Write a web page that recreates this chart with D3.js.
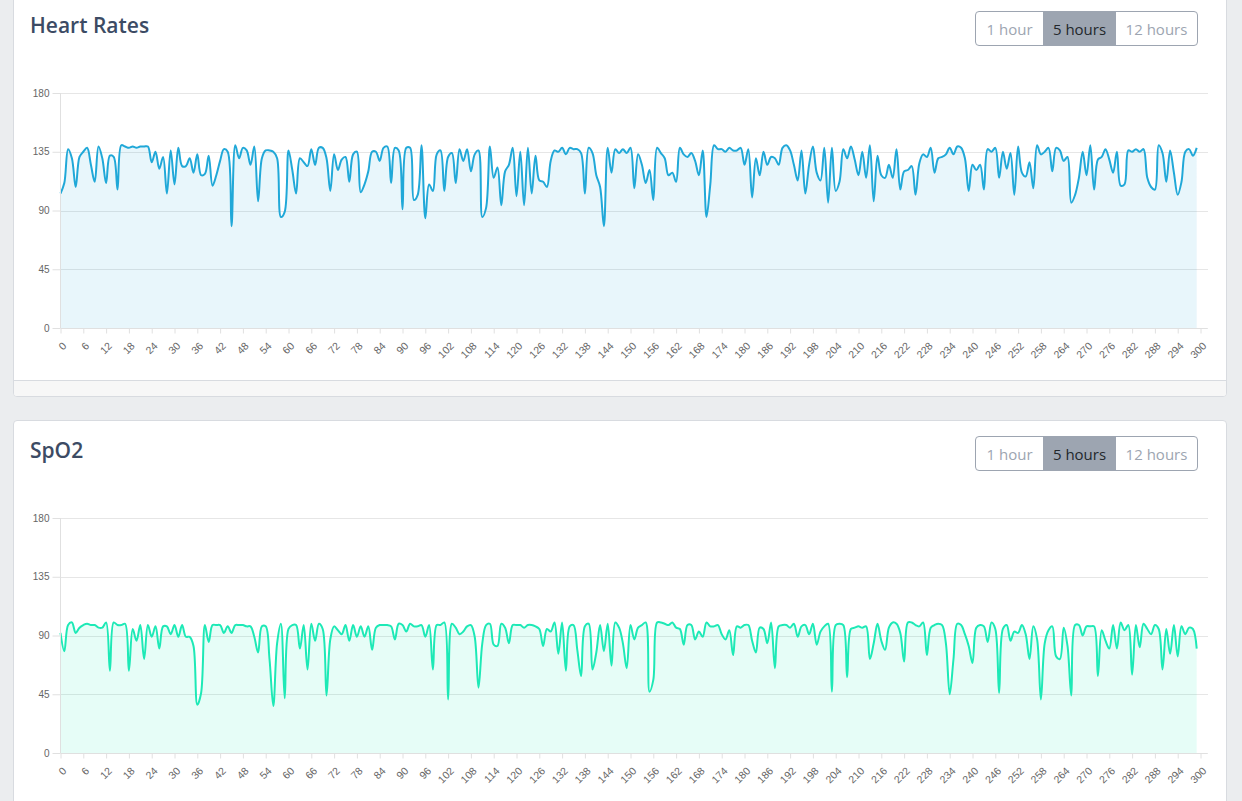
<!DOCTYPE html>
<html><head><meta charset="utf-8">
<script src="https://cdn.jsdelivr.net/npm/d3@7"></script>
<style>
html,body{margin:0;padding:0;}
body{background:#ebedef;width:1242px;height:801px;overflow:hidden;position:relative;font-family:"Open Sans","Noto Sans",sans-serif;}
.card{position:absolute;left:13px;width:1212px;background:#fff;border:1px solid #d8dbe0;border-radius:4px;overflow:hidden;}
.footer{position:absolute;left:0;right:0;bottom:0;height:15px;background:#f7f7f7;border-top:1px solid #d8dbe0;}
.title{position:absolute;left:30px;font-size:21px;font-weight:600;color:#3c4b64;}
.btns{position:absolute;left:975px;height:35px;display:flex;border:1px solid #9da5b1;border-radius:4px;overflow:hidden;box-sizing:border-box;}
.btn{height:100%;display:flex;align-items:center;justify-content:center;font-size:15px;color:#9da5b1;box-sizing:border-box;}
.btn.active{background:#9da5b1;color:#23282c;}
svg{position:absolute;left:0;top:0;}
</style></head>
<body>
<div class="card" style="top:-10px;height:405px;"><div class="footer"></div></div>
<div class="card" style="top:420px;height:400px;"></div>
<div class="title" style="top:11px;">Heart Rates</div>
<div class="title" style="top:436px;">SpO2</div>
<div class="btns" style="top:11px;"><div class="btn" style="width:67px">1 hour</div><div class="btn active" style="width:73px">5 hours</div><div class="btn" style="width:81px">12 hours</div></div>
<div class="btns" style="top:436px;"><div class="btn" style="width:67px">1 hour</div><div class="btn active" style="width:73px">5 hours</div><div class="btn" style="width:81px">12 hours</div></div>
<svg id="chart" width="1242" height="801"></svg>
<script>
const heartRate = [103,111,137,130,108,131,135,138,125,112,
139,130,111,132,131,106,140,139,138,139,
138,139,139,139,127,135,122,131,103,136,
110,138,124,124,130,119,133,117,118,132,
109,117,128,137,135,78,140,130,138,136,
125,139,97,130,136,136,135,130,85,89,
136,121,103,130,127,124,137,125,138,138,
130,105,133,121,129,131,112,133,135,104,
110,120,135,135,128,138,139,111,138,136,
91,138,138,98,102,140,84,110,105,133,
136,105,131,134,111,137,128,137,120,133,
136,85,92,139,115,123,94,120,125,138,
101,135,94,138,103,132,113,112,108,128,
136,135,138,133,138,137,137,134,103,138,
134,117,108,78,138,119,137,134,137,134,
138,107,133,125,111,121,98,138,134,130,
117,119,112,138,133,131,134,128,117,136,
85,110,140,137,137,135,138,136,136,138,
125,137,100,130,117,135,125,131,130,125,
138,140,136,125,113,136,103,125,139,119,
113,138,96,138,105,112,137,130,139,129,
117,135,115,140,97,132,117,115,125,115,
137,106,120,121,124,102,126,133,131,138,
119,130,131,133,138,133,139,138,130,105,
125,121,125,106,137,135,138,115,135,122,
134,102,139,119,116,127,107,140,133,135,
138,120,138,136,128,131,96,102,115,135,
117,140,106,129,131,137,129,119,135,109,
110,136,135,137,135,137,115,108,106,140,
134,112,136,119,102,112,135,137,132,138];
const spo2 = [92,78,98,100,92,96,98,99,98,98,
96,96,100,63,100,98,98,99,63,95,
86,98,72,98,89,97,80,97,97,91,
98,89,98,89,89,82,37,46,98,85,
98,98,98,92,97,92,98,98,98,97,
97,89,77,97,97,72,36,84,99,42,
95,98,98,80,98,64,99,86,99,95,
44,87,97,94,91,98,86,98,89,97,
89,97,79,96,98,98,98,97,87,99,
98,93,99,97,97,98,89,98,64,98,
98,100,41,99,96,91,93,97,98,89,
50,84,98,99,83,82,99,96,84,98,
98,98,96,98,98,97,95,82,95,93,
100,76,100,63,97,98,79,59,97,99,
64,77,98,78,99,67,100,96,84,65,
98,87,96,98,100,47,56,100,100,99,
98,100,96,95,83,98,98,87,93,89,
100,97,97,98,91,87,94,75,97,96,
98,98,86,77,96,95,84,100,65,97,
98,98,96,99,89,97,98,91,99,83,
93,97,99,47,98,99,98,58,95,96,
97,96,97,72,84,99,86,79,96,100,
99,92,70,100,100,98,97,100,75,96,
98,99,98,84,45,72,99,98,91,82,
69,96,98,97,85,100,95,46,95,98,
86,93,92,98,91,72,97,87,41,84,
94,97,74,72,96,82,44,98,98,90,
97,97,97,59,94,86,80,98,80,100,
94,98,60,98,81,99,95,91,98,95,
64,95,76,98,74,97,91,96,95,80];
const yTicks = [0,45,90,135,180];
const xTicks = d3.range(0, 301, 6);

const svg = d3.select('#chart');
const x = d3.scaleLinear().domain([0,300]).range([60.5,1200.5]);

function drawChart(values, top, bottom, stroke, fill){
  const y = d3.scaleLinear().domain([0,180]).range([bottom, top]);
  const g = svg.append('g');
  g.append('g').attr('transform','translate(60.5,0)')
    .call(d3.axisLeft(y).tickValues(yTicks).tickSize(-1147).tickFormat(''))
    .call(s=>s.select('.domain').remove())
    .call(s=>s.selectAll('line').attr('stroke','#e6e6e6').attr('shape-rendering','crispEdges'));
  const pts = values.map((v,i)=>[i,v]);
  g.append('path').datum(pts)
    .attr('d', d3.area().x(d=>x(d[0])).y0(y(0)).y1(d=>y(d[1])).curve(d3.curveCatmullRom))
    .attr('fill', fill);
  g.append('path').datum(pts)
    .attr('d', d3.line().x(d=>x(d[0])).y(d=>y(d[1])).curve(d3.curveCatmullRom))
    .attr('fill','none').attr('stroke',stroke).attr('stroke-width',2);
  const ya = g.append('g').attr('transform','translate(60.5,0)')
    .call(d3.axisLeft(y).tickValues(yTicks).tickSize(8).tickPadding(3));
  ya.select('.domain').attr('stroke','#e0e0e0').attr('d',`M0,${top}V${bottom}`);
  ya.selectAll('line').attr('stroke','#e0e0e0');
  ya.selectAll('text').attr('fill','#666').attr('font-size',10).attr('font-family','"Liberation Sans",Arial,sans-serif');
  const xa = g.append('g').attr('transform',`translate(0,${bottom+0.5})`)
    .call(d3.axisBottom(x).tickValues(xTicks).tickSize(5).tickFormat(d3.format('d')));
  xa.select('.domain').attr('stroke','#e0e0e0').attr('d','M60.5,0H1207');
  xa.selectAll('line').attr('stroke','#e0e0e0');
  xa.selectAll('text').attr('fill','#666').attr('font-size',10.5)
    .attr('font-family','"Liberation Sans",Arial,sans-serif')
    .attr('text-anchor','end').attr('dy','0.35em').attr('y',0)
    .attr('transform','translate(3.5,15.5) rotate(-45)');
}
drawChart(heartRate, 93, 328, '#20a8d8', 'rgba(32,168,216,0.1)');
drawChart(spo2, 518, 753, '#1de9b6', 'rgba(29,233,182,0.11)');
</script>
</body></html>
